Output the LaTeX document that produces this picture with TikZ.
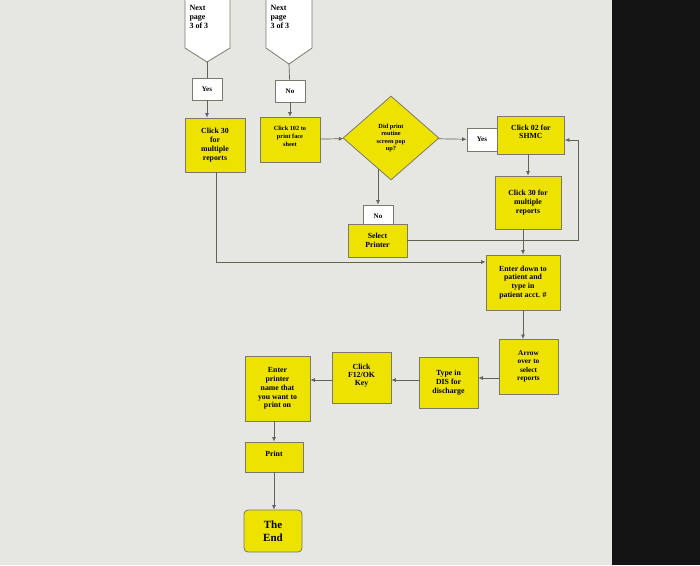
\documentclass[tikz,border=0pt]{standalone}
\usepackage{fontspec}
\setmainfont{Liberation Serif}
\usetikzlibrary{shapes.geometric,arrows.meta}
\definecolor{bg}{HTML}{E6E6E3}
\definecolor{yel}{HTML}{EEE200}
\definecolor{edge}{HTML}{7A7A6A}
\tikzset{
 box/.style={draw=edge,fill=yel,line width=0.8pt,align=center,font=\bfseries\fontsize{7.8}{8.8}\selectfont,inner sep=1pt},
 lbl/.style={draw=edge,fill=white,line width=0.8pt,font=\bfseries\fontsize{7}{8}\selectfont,inner sep=1pt},
 con/.style={draw=edge!80!black,line width=0.7pt,-{Latex[length=4.5pt,width=4pt]}},
 line/.style={draw=edge!80!black,line width=0.7pt}
}
\begin{document}
\begin{tikzpicture}[x=1pt,y=-1pt]
\fill[bg] (0,0) rectangle (700,565);
\fill[black!92] (612,0) rectangle (700,565);
\useasboundingbox (0,0) rectangle (700,565);
% off-page connectors
\draw[edge,line width=0.8pt,fill=white] (185,0) -- (185,48) -- (207,62) -- (230,48) -- (230,0);
\node[font=\bfseries\fontsize{8}{9}\selectfont,align=left,anchor=north west] (p1) at (186,2) {Next\\page\\3 of 3};
\coordinate (p1b) at (207,62);
\draw[edge,line width=0.8pt,fill=white] (266,0) -- (266,48) -- (289,64) -- (312,48) -- (312,0);
\node[font=\bfseries\fontsize{8}{9}\selectfont,align=left,anchor=north west] (p2) at (267,2) {Next\\page\\3 of 3};
\coordinate (p2b) at (289,64);
% labels and boxes
\node[lbl,minimum width=30pt,minimum height=22pt] (yes1) at (207,89) {Yes};
\node[lbl,minimum width=30pt,minimum height=22pt] (no1) at (290,91) {No};
\node[box,minimum width=60pt,minimum height=54pt] (c30a) at (215,145) {Click 30\\for\\multiple\\reports};
\node[box,minimum width=60pt,minimum height=45pt,font=\bfseries\fontsize{6.3}{7.3}\selectfont] (c102) at (290,139.5) {\raisebox{6pt}{\shortstack{Click 102 to\\print face\\sheet}}};
\node[draw=edge,fill=yel,line width=0.8pt,diamond,minimum width=96pt,minimum height=84pt,inner sep=0pt,align=center,font=\bfseries\fontsize{6.3}{7.3}\selectfont] (dia) at (391,138) {Did print\\routine\\screen pop\\up?};
\node[lbl,minimum width=30pt,minimum height=23pt] (yes2) at (482,139.5) {Yes};
\node[box,minimum width=67pt,minimum height=38pt,anchor=west] (c02) at (497,135) {\raisebox{6pt}{\shortstack{Click 02 for\\SHMC}}};
\node[box,minimum width=66pt,minimum height=53pt] (c30b) at (528,202.5) {Click 30 for\\multiple\\reports};
\node[lbl,minimum width=30pt,minimum height=23pt] (no2) at (378,216.5) {No};
\node[box,minimum width=59pt,minimum height=33pt] (sel) at (377.5,240.5) {Select\\Printer};
\node[box,minimum width=74pt,minimum height=55pt] (ent) at (523,282.5) {Enter down to\\patient and\\type in\\patient acct. \#};
\node[box,minimum width=59pt,minimum height=55pt,font=\bfseries\fontsize{7.3}{8.3}\selectfont] (arr) at (528.5,366.5) {Arrow\\over to\\select\\reports};
\node[box,minimum width=59pt,minimum height=51pt] (dis) at (448.5,382.5) {Type in\\DIS for\\discharge};
\node[box,minimum width=59pt,minimum height=51pt] (f12) at (361.5,377.5) {\raisebox{6pt}{\shortstack{Click\\F12/OK\\Key}}};
\node[box,minimum width=65pt,minimum height=65pt] (epn) at (277.5,388.5) {Enter\\printer\\name that\\you want to\\print on};
\node[box,minimum width=58pt,minimum height=30pt] (prt) at (274,457) {\raisebox{6pt}{Print}};
\node[draw=edge,fill=yel,line width=0.8pt,rounded corners=4pt,minimum width=58pt,minimum height=42pt,align=center,font=\bfseries\fontsize{11}{13}\selectfont] (end) at (273,531) {The\\End};
% connectors
\draw[line] (p1b) -- (yes1);
\draw[con] (yes1) -- (yes1 |- c30a.north);
\draw[line] (p2b) -- (no1);
\draw[con] (no1) -- (no1 |- c102.north);
\draw[con] (c102) -- (dia);
\draw[con] (dia) -- (yes2);
\draw[con] (378,169) -- (no2.north);
\draw[con] (c02.south -| c30b) -- (c30b.north);
\draw[con] (c30b.south -| ent) -- (ent.north);
\draw[con] (sel.east) -- (578,240.5) -- (578,140) -- (c02.east |- 0,140);
\draw[con] (216,172) -- (216,262) -- (ent.west |- 0,262);
\draw[con] (ent.south -| 523,0) -- (523,339);
\draw[con] (arr.west |- 0,378) -- (dis.east |- 0,378);
\draw[con] (dis.west |- 0,380) -- (f12.east |- 0,380);
\draw[con] (f12.west |- 0,380) -- (epn.east |- 0,380);
\draw[con] (274,421) -- (prt.north -| 274,0);
\draw[con] (274,472) -- (end.north -| 274,0);
\end{tikzpicture}
\end{document}
